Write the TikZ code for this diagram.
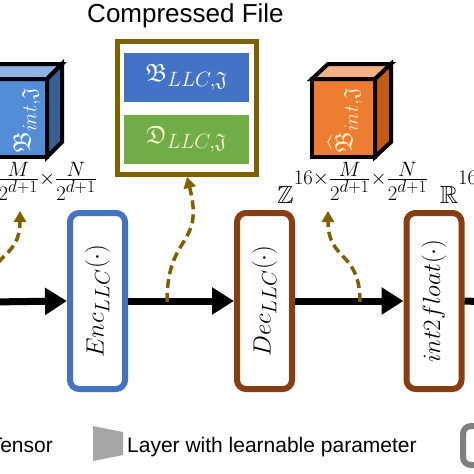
\documentclass[tikz,border=0pt]{standalone}
\usepackage{amsmath,amssymb}
\usepackage{fontspec}
\newfontfamily\sansfont{Liberation Sans}
\usetikzlibrary{arrows.meta}

\definecolor{encblue}{RGB}{68,114,196}
\definecolor{decbrown}{RGB}{136,62,16}
\definecolor{fileolive}{RGB}{127,96,0}
\definecolor{filegreen}{RGB}{112,173,71}
\definecolor{bcubefront}{RGB}{83,141,213}
\definecolor{bcubetop}{RGB}{141,180,226}
\definecolor{bcubeside}{RGB}{54,96,146}
\definecolor{ocubefront}{RGB}{237,125,49}
\definecolor{ocubetop}{RGB}{244,177,131}
\definecolor{ocubeside}{RGB}{197,90,17}
\definecolor{paleyellow}{RGB}{255,242,204}
\definecolor{legendgray}{RGB}{127,127,127}
\definecolor{trapgray}{RGB}{166,166,166}

\begin{document}
\begin{tikzpicture}[x=1pt,y=-1pt,
    mainarrow/.style={line width=7pt,-{Triangle[length=22pt,width=26pt]}},
    sidearrow/.style={fileolive,line width=3.5pt,dash pattern=on 9pt off 5pt,
        -{Triangle[length=11pt,width=12pt]}},
    layerbox/.style={draw,line width=6pt,rounded corners=9pt,fill=white,
        minimum width=55pt,minimum height=176pt,inner sep=0pt},
    filepart/.style={minimum width=125pt,minimum height=49pt,inner sep=0pt},
    sizelab/.style={inner sep=0pt,font=\Huge},
    legendtext/.style={inner sep=0pt,font=\sansfont\fontsize{21}{24}\selectfont}]
    \useasboundingbox (0,0) rectangle (474,474);
    \clip (0,0) rectangle (474,474);

    % cubes
    \filldraw[fill=bcubefront,line width=4pt] (-16,79) rectangle (47,157);
    \filldraw[fill=bcubetop,line width=4pt] (-16,79) -- (-1,64) -- (62,64) -- (47,79) -- cycle;
    \filldraw[fill=bcubeside,line width=4pt] (47,79) -- (62,64) -- (62,142) -- (47,157) -- cycle;
    \node[text=white,font=\Huge] (bint) at (27,121)
        {\rotatebox{90}{$\mathfrak{B}_{int,\mathfrak{J}}$}};

    \filldraw[fill=ocubefront,line width=4pt] (312,79) rectangle (375,157);
    \filldraw[fill=ocubetop,line width=4pt] (312,79) -- (328,64) -- (391,64) -- (375,79) -- cycle;
    \filldraw[fill=ocubeside,line width=4pt] (375,79) -- (391,64) -- (391,142) -- (375,157) -- cycle;
    \node[text=paleyellow,font=\Huge] (bhat) at (345,121)
        {\rotatebox{90}{$\widehat{\mathfrak{B}}_{int,\mathfrak{J}}$}};

    % compressed file
    \node[font=\sansfont\fontsize{26}{30}\selectfont,inner sep=0pt] (title) at (185.5,16) {Compressed File};
    \node[draw=fileolive,line width=5pt,minimum width=139pt,minimum height=133pt,inner sep=0pt] (cfile) at (187,108) {};
    \node[filepart,fill=encblue,text=white,font=\Huge] (bllc) at (186.5,77.5) {$\mathfrak{B}_{LLC,\mathfrak{J}}$};
    \node[filepart,fill=filegreen,text=paleyellow,font=\Huge] (dllc) at (186.5,139.5) {$\mathfrak{D}_{LLC,\mathfrak{J}}$};

    % size labels
    \node[sizelab,anchor=base west] (zleft) at (-54.5,203)
        {$\mathbb{Z}^{16\times\frac{\scriptstyle M}{\scriptstyle 2^{d+1}}\times\frac{\scriptstyle N}{\scriptstyle 2^{d+1}}}$};
    \node[sizelab,anchor=base west] (zmid) at (277,203)
        {$\mathbb{Z}^{16\times\frac{\scriptstyle M}{\scriptstyle 2^{d+1}}\times\frac{\scriptstyle N}{\scriptstyle 2^{d+1}}}$};
    \node[sizelab,anchor=base west] (rright) at (440,203)
        {$\mathbb{R}^{16\times\frac{\scriptstyle M}{\scriptstyle 2^{d+1}}\times\frac{\scriptstyle N}{\scriptstyle 2^{d+1}}}$};

    % layers
    \node[layerbox,draw=encblue] (enc) at (97.5,301) {\rotatebox{90}{\Huge$Enc_{LLC}(\cdot)$}};
    \node[layerbox,draw=decbrown] (dec) at (264.5,301) {\rotatebox{90}{\Huge$Dec_{LLC}(\cdot)$}};
    \node[layerbox,draw=decbrown] (tofloat) at (434,301) {\rotatebox{90}{\Huge$int2float(\cdot)$}};

    \coordinate (in) at (-10,302);
    \coordinate (out) at (490,302);
    \draw[mainarrow] (in) -- (enc.west);
    \draw[mainarrow] (enc.east) -- (dec.west);
    \draw[mainarrow] (dec.east) -- (tofloat.west);
    \draw[line width=7pt] (tofloat.east) -- (out);

    % side outputs
    \coordinate (tap0) at (-14,302);
    \coordinate (tap1) at (167,302);
    \coordinate (tap2) at (360,302);
    \coordinate (zleftend) at (20,211);
    \coordinate (zmidend) at (328,211);
    \draw[sidearrow] (tap0) .. controls (-14,250) and (20,262) .. (zleftend);
    \draw[sidearrow] (tap1) .. controls (167,232) and (205,248) .. (cfile.south);
    \draw[sidearrow] (tap2) .. controls (360,250) and (328,262) .. (zmidend);

    % legend
    \node[legendtext,anchor=base east] (tensorlab) at (53,452) {Tensor};
    \fill[trapgray] (93,426) -- (123,432) -- (123,455) -- (93,461) -- cycle;
    \node[legendtext,anchor=base west] (layerlab) at (127,452) {Layer with learnable parameter};
    \draw[legendgray,line width=6pt,rounded corners=8pt] (463,426) rectangle (500,465);
\end{tikzpicture}
\end{document}
